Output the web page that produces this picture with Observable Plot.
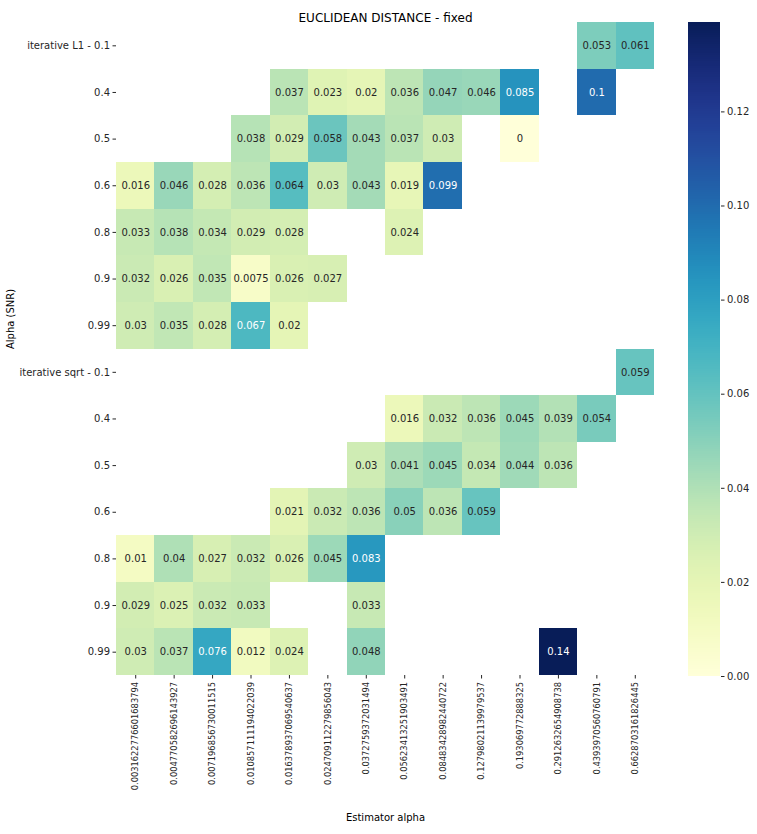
<!DOCTYPE html>
<html><head><meta charset="utf-8">
<script src="https://cdn.jsdelivr.net/npm/d3@7"></script>
<script src="https://cdn.jsdelivr.net/npm/@observablehq/plot@0.6"></script>
<style>
body{margin:0;background:#fff;}
#wrap{position:relative;width:757px;height:834px;font-family:"DejaVu Sans",sans-serif;}
#wrap svg{position:absolute;top:0;}
</style></head><body><div id="wrap"></div>
<script>
const title = "EUCLIDEAN DISTANCE - fixed";
const xLabel = "Estimator alpha";
const yLabel = "Alpha (SNR)";
const methods = ["iterative L1", "iterative sqrt"];
const snrs = ["0.1", "0.4", "0.5", "0.6", "0.8", "0.9", "0.99"];
const estimatorAlphas = ["0.0031622776601683794","0.004770582696143927","0.007196856730011515","0.010857111194022039","0.016378937069540637","0.024709112279856043","0.0372759372031494","0.05623413251903491","0.08483428982440722","0.12798021139979537","0.193069772888325","0.2912632654908738","0.4393970560760791","0.6628703161826445"];
const _ = null;
const valuesL1 = [
  [_,_,_,_,_,_,_,_,_,_,_,_,0.053,0.061],
  [_,_,_,_,0.037,0.023,0.02,0.036,0.047,0.046,0.085,_,0.1,_],
  [_,_,_,0.038,0.029,0.058,0.043,0.037,0.03,_,0,_,_,_],
  [0.016,0.046,0.028,0.036,0.064,0.03,0.043,0.019,0.099,_,_,_,_,_],
  [0.033,0.038,0.034,0.029,0.028,_,_,0.024,_,_,_,_,_,_],
  [0.032,0.026,0.035,0.0075,0.026,0.027,_,_,_,_,_,_,_,_],
  [0.03,0.035,0.028,0.067,0.02,_,_,_,_,_,_,_,_,_]
];
const valuesSqrt = [
  [_,_,_,_,_,_,_,_,_,_,_,_,_,0.059],
  [_,_,_,_,_,_,_,0.016,0.032,0.036,0.045,0.039,0.054,_],
  [_,_,_,_,_,_,0.03,0.041,0.045,0.034,0.044,0.036,_,_],
  [_,_,_,_,0.021,0.032,0.036,0.05,0.036,0.059,_,_,_,_],
  [0.01,0.04,0.027,0.032,0.026,0.045,0.083,_,_,_,_,_,_,_],
  [0.029,0.025,0.032,0.033,_,_,0.033,_,_,_,_,_,_,_],
  [0.03,0.037,0.076,0.012,0.024,_,0.048,_,_,_,_,0.139,_,_]
];
const colorTicks = [0, 0.02, 0.04, 0.06, 0.08, 0.10, 0.12];

const rowKeys = [];
const cells = [];
[valuesL1, valuesSqrt].forEach((mat, m) => {
  snrs.forEach((s, r) => {
    const key = methods[m] + " - " + s;
    rowKeys.push(key);
    mat[r].forEach((v, c) => {
      if (v !== null) cells.push({row: key, alpha: estimatorAlphas[c], value: v});
    });
  });
});
const vmax = d3.max(cells, d => d.value);
const fmt = d3.format(".2~g");
function lum(v) {
  const c = d3.rgb(d3.interpolateYlGnBu(v / vmax));
  const f = x => { x /= 255; return x <= 0.03928 ? x / 12.92 : Math.pow((x + 0.055) / 1.055, 2.4); };
  return 0.2126 * f(c.r) + 0.7152 * f(c.g) + 0.0722 * f(c.b);
}
const dark = d => lum(d.value) > 0.408;
const ink = "#262626";

const main = Plot.plot({
  width: 670, height: 834,
  marginLeft: 116, marginRight: 16, marginTop: 22, marginBottom: 159,
  style: {fontFamily: "DejaVu Sans, sans-serif", fontSize: "10px", color: ink, background: "transparent"},
  x: {domain: estimatorAlphas, padding: 0, round: false},
  y: {domain: rowKeys, padding: 0, round: false},
  color: {type: "linear", scheme: "YlGnBu", domain: [0, vmax]},
  marks: [
    Plot.cell(cells, {x: "alpha", y: "row", fill: "value", inset: 0, shapeRendering: "crispEdges"}),
    Plot.text(cells, {filter: dark, x: "alpha", y: "row", text: d => fmt(d.value), fill: ink, fontSize: 10}),
    Plot.text(cells, {filter: d => !dark(d), x: "alpha", y: "row", text: d => fmt(d.value), fill: "white", fontSize: 10}),
    Plot.axisX({tickRotate: -90, tickSize: 3.5, tickPadding: 3, fontSize: 8.3, label: null}),
    Plot.axisY({tickSize: 3.5, tickPadding: 3, label: null,
      tickFormat: k => k.endsWith(" - 0.1") ? k : k.split(" - ")[1]}),
    Plot.text([title], {frameAnchor: "top", dy: -9, fontSize: 12, fill: "black"}),
    Plot.text([xLabel], {frameAnchor: "bottom", dy: 145, fontSize: 10, fill: "black"}),
    Plot.text([yLabel], {frameAnchor: "left", dx: -106, rotate: -90, fontSize: 10, fill: "black"})
  ]
});
main.style.left = "0px";
document.getElementById("wrap").appendChild(main);

const N = 300;
const slices = d3.range(N).map(i => ({y1: i * vmax / N, y2: (i + 1) * vmax / N, v: (i + 0.5) * vmax / N}));
const bar = Plot.plot({
  width: 87, height: 834,
  marginLeft: 18, marginRight: 37, marginTop: 22, marginBottom: 158,
  style: {fontFamily: "DejaVu Sans, sans-serif", fontSize: "10px", color: ink, background: "transparent"},
  x: {domain: [0, 1], axis: null},
  y: {domain: [0, vmax]},
  color: {type: "linear", scheme: "YlGnBu", domain: [0, vmax]},
  marks: [
    Plot.rect(slices, {x1: 0, x2: 1, y1: "y1", y2: "y2", fill: "v", shapeRendering: "crispEdges"}),
    Plot.axisY({anchor: "right", ticks: colorTicks, tickFormat: d3.format(".2f"), tickSize: 3.5, tickPadding: 3, label: null})
  ]
});
bar.style.left = "670px";
document.getElementById("wrap").appendChild(bar);
</script></body></html>
